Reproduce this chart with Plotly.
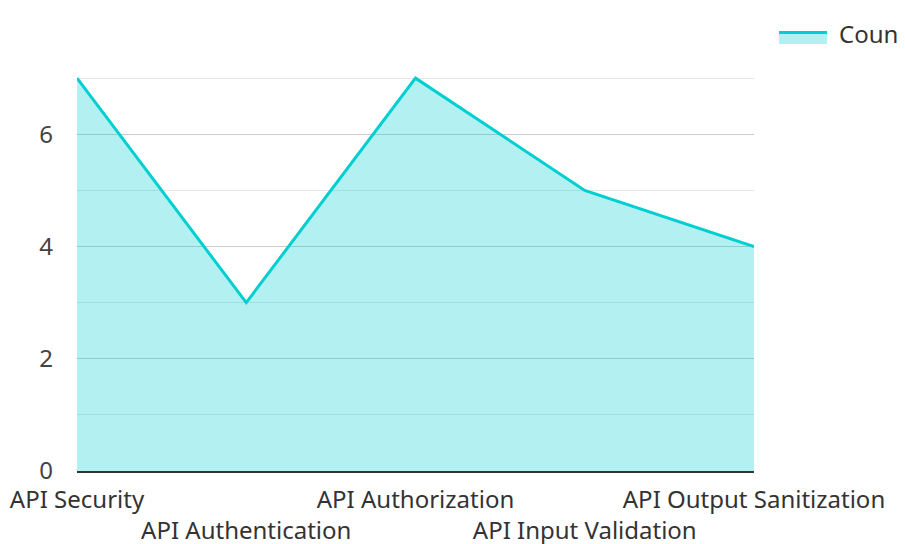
import plotly.graph_objects as go

categories = ["API Security", "API Authentication", "API Authorization", "API Input Validation", "API Output Sanitization"]
counts = [7, 3, 7, 5, 4]
series_name = "Count"

x_idx = list(range(len(categories)))
tick_text = [c if i % 2 == 0 else "<br>" + c for i, c in enumerate(categories)]

FONT = "Noto Sans"
LINE = "#00CED1"
FILL = "rgba(0,206,209,0.3)"

fig = go.Figure()
fig.add_trace(go.Scatter(
    x=x_idx, y=counts, name=series_name, mode="lines",
    fill="tozeroy", fillcolor=FILL,
    line=dict(color=LINE, width=3), showlegend=False,
))

# legend drawn as swatch + text (outside plot area, right side)
fig.add_shape(type="rect", xref="paper", yref="paper",
              x0=1.0369, x1=1.1078, y0=0.951, y1=0.98,
              fillcolor=FILL, line=dict(width=0), layer="above")
fig.add_shape(type="line", xref="paper", yref="paper",
              x0=1.0369, x1=1.1078, y0=0.9766, y1=0.9766,
              line=dict(color=LINE, width=3), layer="above")
fig.add_annotation(text=series_name, xref="paper", yref="paper",
                   x=1.1226, y=0.9755, xanchor="left", yanchor="middle",
                   showarrow=False, font=dict(family=FONT, size=24, color="#333"))

fig.update_layout(
    width=897, height=536,
    margin=dict(l=69, r=151, t=14, b=73),
    paper_bgcolor="white", plot_bgcolor="white",
    font=dict(family=FONT, size=24, color="#444"),
    showlegend=False,
    xaxis=dict(
        range=[0, len(categories) - 1], tickvals=x_idx, ticktext=tick_text,
        tickangle=0, automargin=False,
        showgrid=False, showline=True, linecolor="#333", linewidth=2,
        ticks="", zeroline=False, tickfont=dict(size=24, color="#333"),
        ticklabelstandoff=6,
    ),
    yaxis=dict(
        range=[0, 8], tickvals=[0, 2, 4, 6, 8], showgrid=True, gridcolor="#cccccc", gridwidth=1,
        zeroline=False, ticks="", tickfont=dict(size=24, color="#444"),
        minor=dict(tickvals=[1, 3, 5, 7], showgrid=True, gridcolor="#e6e6e6", gridwidth=1),
        ticklabelstandoff=23, automargin=False,
    ),
)

fig.write_html("out.html")
